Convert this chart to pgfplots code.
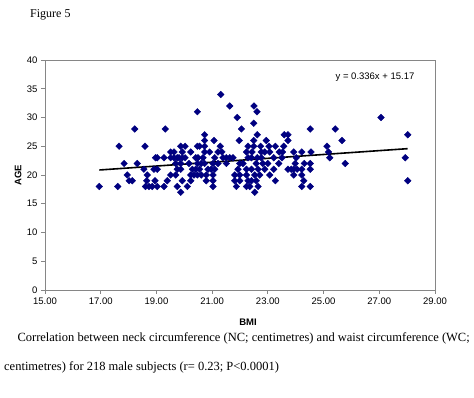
\documentclass[border=0pt]{standalone}
\usepackage{pgfplots}
\pgfplotsset{compat=1.18}
\usepackage{fontspec}
\setmainfont{Liberation Serif}
\newfontfamily\arialfont{Liberation Sans}
\definecolor{navy}{RGB}{0,0,128}
\definecolor{axgray}{RGB}{134,134,134}

\begin{document}
\begin{tikzpicture}[x=1pt,y=1pt]
\useasboundingbox (0,0) rectangle (474,398);
\begin{axis}[
  at={(45pt,108pt)}, anchor=south west,
  scale only axis, width=390pt, height=230pt,
  xmin=15, xmax=29, ymin=0, ymax=40,
  xtick={15,17,...,29}, ytick={0,5,...,40},
  tick pos=left, tick align=outside, major tick length=4pt,
  axis line style={axgray, line width=0.8pt},
  every tick/.style={axgray, line width=0.8pt},
  tick label style={font=\arialfont\fontsize{9.5}{11}\selectfont, black},
  x tick label style={/pgf/number format/.cd, fixed, fixed zerofill, precision=2, assume math mode=true, /tikz/.cd},
  y tick label style={/pgf/number format/.cd, assume math mode=true, /tikz/.cd},
]
\addplot[only marks, mark=square*, mark size=2.35pt, mark options={navy, fill=navy, rotate=45}] table {
x y
16.95 18
17.61 18
17.66 25
17.84 22
20.47 31
18.22 28
19.32 28
18.59 25
19.87 25
20.03 25
20.47 25
19.51 24
19.63 24
19.93 24
20.23 24
18.97 23
19.03 23
19.27 23
19.51 23
19.63 23
19.75 23
19.81 23
19.93 23
20.03 23
20.41 23
20.49 23
18.31 22
19.69 22
19.87 22
20.17 22
20.47 22
18.55 21
18.91 21
19.03 21
19.75 21
19.87 21
20.29 21
20.41 21
17.95 20
18.67 20
19.51 20
19.69 20
20.23 20
20.35 20
20.47 20
18.02 19
18.13 19
18.65 19
18.95 19
19.39 19
19.93 19
20.23 19
18.61 18
18.73 18
18.85 18
19.03 18
19.27 18
19.75 18
20.11 18
19.87 17
21.31 34
21.63 32
22.50 32
22.61 31
21.90 30
22.49 29
22.05 28
22.62 27
20.73 27
20.73 26
21.07 26
21.97 26
22.49 26
22.94 26
20.55 25
20.73 25
21.29 25
22.29 25
22.49 25
22.74 25
23.04 25
20.73 24
20.91 24
21.21 24
21.35 24
22.23 24
22.43 24
22.76 24
22.89 24
23.07 24
20.67 23
21.09 23
21.39 23
21.51 23
21.63 23
21.75 23
22.29 23
22.41 23
22.62 23
22.76 23
20.61 22
20.73 22
21.03 22
21.21 22
21.51 22
21.99 22
22.11 22
22.58 22
22.82 22
23.00 22
20.55 21
20.85 21
20.97 21
21.09 21
21.93 21
22.23 21
22.41 21
22.65 21
22.89 21
20.61 20
20.79 20
21.03 20
21.81 20
21.99 20
22.23 20
22.53 20
22.71 20
23.07 20
20.79 19
21.03 19
21.81 19
21.99 19
22.29 19
22.41 19
22.58 19
21.03 18
21.87 18
22.23 18
22.35 18
22.65 18
22.53 17
24.52 28
25.42 28
23.59 27
23.72 27
23.72 26
25.66 26
23.27 25
23.57 25
25.12 25
23.41 24
23.53 24
23.93 24
24.22 24
24.55 24
25.18 24
23.21 23
23.51 23
24.02 23
25.22 23
23.39 22
23.98 22
24.31 22
24.52 22
25.78 22
23.21 21
23.72 21
23.84 21
23.93 21
24.05 21
24.22 21
24.52 21
23.93 20
24.22 20
23.27 19
24.29 19
24.22 18
24.52 18
27.06 30
28.02 27
27.93 23
28.02 19
};
\addplot[black, line width=1.6pt] coordinates {(16.95,20.87) (28.02,24.58)};
\end{axis}
\node[font=\fontsize{12}{14}\selectfont, anchor=west, inner sep=0] at (30,383) {Figure 5};
\node[font=\arialfont\bfseries\fontsize{9.5}{11}\selectfont, rotate=90] at (18,223) {AGE};
\node[font=\arialfont\bfseries\fontsize{9.5}{11}\selectfont] at (248,76) {BMI};
\node[font=\arialfont\fontsize{9.5}{11}\selectfont] at (375,321) {y = 0.336x + 15.17};
\node[font=\fontsize{12.5}{14}\selectfont, anchor=west, inner sep=0] at (17.3,59.7) {Correlation between neck circumference (NC; centimetres) and waist circumference (WC;};
\node[font=\fontsize{12.5}{14}\selectfont, anchor=west, inner sep=0] at (4,30.7) {centimetres) for 218 male subjects (r= 0.23; P<0.0001)};
\end{tikzpicture}
\end{document}
